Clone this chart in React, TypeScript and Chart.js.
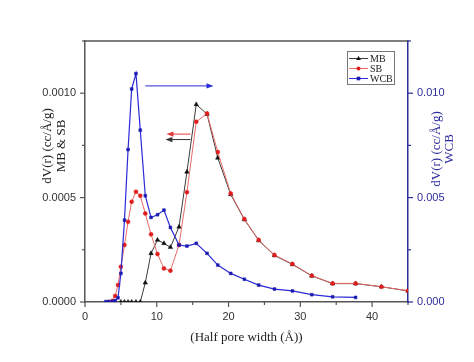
import { useEffect, useRef } from "react";
import { Chart, registerables } from "chart.js";
Chart.register(...registerables);

// ---- Data ----
const mbX = [5.0, 5.5, 6.0, 6.5, 7.1, 7.7, 8.4, 9.2, 10.1, 11.0, 11.9, 13.1, 14.2, 15.5, 17.0, 18.5, 20.3, 22.2, 24.2, 26.4, 28.9, 31.6, 34.5, 37.7, 41.3, 45.0];
const mbY = [0, 0, 0, 0, 0, 0, 0.000092, 0.000233, 0.000297, 0.000281, 0.000262, 0.00036, 0.000623, 0.000946, 0.0009, 0.00069, 0.000515, 0.000395, 0.000295, 0.000223, 0.00018, 0.000125, 0.000088, 0.000088, 0.000073, 0.000053];

const sbX = [3.3, 3.8, 4.2, 4.6, 5.0, 5.5, 6.0, 6.5, 7.1, 7.7, 8.4, 9.2, 10.1, 11.0, 11.9, 13.1, 14.2, 15.5, 17.0, 18.5, 20.3, 22.2, 24.2, 26.4, 28.9, 31.6, 34.5, 37.7, 41.3, 45.0];
const sbY = [0, 0.000005, 0.000029, 0.000081, 0.000169, 0.000273, 0.000384, 0.00048, 0.000528, 0.000509, 0.000424, 0.000324, 0.00023, 0.000161, 0.00015, 0.000273, 0.000526, 0.000863, 0.000903, 0.000718, 0.00052, 0.000397, 0.000297, 0.000225, 0.000182, 0.000126, 0.000089, 0.000089, 0.000073, 0.000054];

const wcbX = [2.9, 3.3, 3.8, 4.2, 4.6, 5.0, 5.5, 6.0, 6.5, 7.1, 7.7, 8.4, 9.2, 10.1, 11.0, 11.9, 13.1, 14.2, 15.5, 17.0, 18.5, 20.3, 22.2, 24.2, 26.4, 28.9, 31.6, 34.5, 37.7];
const wcbY = [0.00002, 0.00002, 0.00003, 0.00006, 0.0002, 0.00137, 0.00392, 0.0073, 0.0102, 0.01094, 0.00823, 0.00509, 0.00405, 0.00418, 0.0044, 0.00357, 0.00273, 0.00268, 0.00281, 0.00233, 0.00177, 0.00137, 0.00109, 0.00081, 0.00062, 0.00053, 0.00035, 0.00025, 0.00022];

const seriesNames = ["MB", "SB", "WCB"];
const xMajorTicks = [0, 10, 20, 30, 40];
const leftMajorTicks = [0, 0.0005, 0.001];
const rightMajorTicks = [0, 0.005, 0.01];

// arrows: [xFrom, xTo, y, axis, color]
const arrows: [number, number, number, string, string][] = [
  [8.4, 17.9, 0.001035, "y", "#2a2ad8"],
  [14.7, 11.35, 0.000804, "y", "#e23a3a"],
  [14.7, 11.2, 0.000778, "y", "#333333"],
];

const SERIF = "'Liberation Serif', 'Times New Roman', serif";
const SANS = "'Liberation Sans', Arial, sans-serif";
const AXIS_GRAY = "#555555";
const BLUE_AXIS = "#2c2c9c";
const COLORS = {
  mbLine: "#3c3c3c",
  mbPoint: "#111111",
  sbLine: "#e86a6a",
  sbPoint: "#e01e1e",
  wcbLine: "#2a2ad8",
  wcbPoint: "#1a1ab0",
};

const near = (v: number, arr: number[]) => arr.some((a) => Math.abs(a - v) < 1e-9);

const decorPlugin = {
  id: "decor",
  afterDraw(chart: any) {
    const ctx = chart.ctx as CanvasRenderingContext2D;
    const ca = chart.chartArea;
    const sx = chart.scales.x;
    const sy = chart.scales.y;
    const sy1 = chart.scales.y1;
    ctx.save();

    // top border
    ctx.strokeStyle = AXIS_GRAY;
    ctx.lineWidth = 1.5;
    ctx.beginPath();
    ctx.moveTo(ca.left, ca.top);
    ctx.lineTo(ca.right, ca.top);
    ctx.stroke();

    // tick marks
    ctx.lineWidth = 1.2;
    ctx.strokeStyle = AXIS_GRAY;
    sx.ticks.forEach((t: any) => {
      const p = sx.getPixelForValue(t.value);
      const len = near(t.value, xMajorTicks) ? 5 : 3;
      ctx.beginPath();
      ctx.moveTo(p, ca.bottom);
      ctx.lineTo(p, ca.bottom + len);
      ctx.stroke();
    });
    sy.ticks.forEach((t: any) => {
      const p = sy.getPixelForValue(t.value);
      const len = near(t.value, leftMajorTicks) ? 5 : 3;
      ctx.beginPath();
      ctx.moveTo(ca.left, p);
      ctx.lineTo(ca.left - len, p);
      ctx.stroke();
    });
    ctx.strokeStyle = BLUE_AXIS;
    sy1.ticks.forEach((t: any) => {
      const p = sy1.getPixelForValue(t.value);
      const len = near(t.value, rightMajorTicks) ? 5 : 3;
      ctx.beginPath();
      ctx.moveTo(ca.right, p);
      ctx.lineTo(ca.right + len, p);
      ctx.stroke();
    });

    // axis titles
    ctx.textAlign = "center";
    ctx.textBaseline = "middle";
    ctx.font = `13px ${SERIF}`;
    ctx.fillStyle = "#222222";
    ctx.fillText("(Half pore width (Å))", (ca.left + ca.right) / 2, 338);

    const rotText = (lines: string[], xs: number[], y: number, color: string) => {
      lines.forEach((l, i) => {
        ctx.save();
        ctx.translate(xs[i], y);
        ctx.rotate(-Math.PI / 2);
        ctx.fillStyle = color;
        ctx.fillText(l, 0, 0);
        ctx.restore();
      });
    };
    rotText(["dV(r) (cc/Å/g)", "MB & SB"], [48, 62], 146, "#222222");
    rotText(["dV(r) (cc/Å/g)", "WCB"], [437, 450], 149, BLUE_AXIS);

    // arrows
    arrows.forEach(([x0, x1, yv, axis, color]) => {
      const scaleY = chart.scales[axis];
      const px0 = sx.getPixelForValue(x0);
      const px1 = sx.getPixelForValue(x1);
      const py = scaleY.getPixelForValue(yv);
      const dir = px1 > px0 ? 1 : -1;
      ctx.strokeStyle = color;
      ctx.fillStyle = color;
      ctx.lineWidth = 1;
      ctx.beginPath();
      ctx.moveTo(px0, py);
      ctx.lineTo(px1 - dir * 5, py);
      ctx.stroke();
      ctx.beginPath();
      ctx.moveTo(px1, py);
      ctx.lineTo(px1 - dir * 7, py - 2.6);
      ctx.lineTo(px1 - dir * 7, py + 2.6);
      ctx.closePath();
      ctx.fill();
    });

    // legend
    const bx = ca.right - 61;
    const by = ca.top + 10;
    const bw = 47;
    const bh = 33;
    ctx.fillStyle = "#ffffff";
    ctx.fillRect(bx, by, bw, bh);
    ctx.strokeStyle = "#777777";
    ctx.lineWidth = 1;
    ctx.strokeRect(bx + 0.5, by + 0.5, bw, bh);
    const items = [
      { name: seriesNames[0], line: COLORS.mbLine, pt: COLORS.mbPoint, style: "triangle" },
      { name: seriesNames[1], line: COLORS.sbLine, pt: COLORS.sbPoint, style: "circle" },
      { name: seriesNames[2], line: COLORS.wcbLine, pt: COLORS.wcbPoint, style: "rect" },
    ];
    ctx.font = `10px ${SERIF}`;
    ctx.textAlign = "left";
    items.forEach((it, i) => {
      const yy = by + 7.5 + i * 10;
      ctx.strokeStyle = it.line;
      ctx.lineWidth = 1;
      ctx.beginPath();
      ctx.moveTo(bx + 2, yy);
      ctx.lineTo(bx + 21, yy);
      ctx.stroke();
      ctx.fillStyle = it.pt;
      const cx = bx + 11.5;
      ctx.beginPath();
      if (it.style === "triangle") {
        ctx.moveTo(cx, yy - 2.6);
        ctx.lineTo(cx + 2.4, yy + 1.6);
        ctx.lineTo(cx - 2.4, yy + 1.6);
        ctx.closePath();
      } else if (it.style === "circle") {
        ctx.arc(cx, yy, 2, 0, Math.PI * 2);
      } else {
        ctx.rect(cx - 1.8, yy - 1.8, 3.6, 3.6);
      }
      ctx.fill();
      ctx.fillStyle = "#222222";
      ctx.fillText(it.name, bx + 23, yy + 0.5);
    });

    ctx.restore();
  },
};

export default function App() {
  const ref = useRef<HTMLCanvasElement>(null);
  useEffect(() => {
    const toPts = (xs: number[], ys: number[]) => xs.map((x, i) => ({ x, y: ys[i] }));
    const chart = new Chart(ref.current as HTMLCanvasElement, {
      type: "line",
      data: {
        datasets: [
          {
            label: seriesNames[0],
            data: toPts(mbX, mbY),
            yAxisID: "y",
            borderColor: COLORS.mbLine,
            backgroundColor: COLORS.mbPoint,
            pointBackgroundColor: COLORS.mbPoint,
            pointBorderColor: COLORS.mbPoint,
            pointStyle: "triangle",
            pointRadius: 2.6,
            pointBorderWidth: 0.5,
            borderWidth: 1,
            tension: 0,
            order: 3,
          },
          {
            label: seriesNames[1],
            data: toPts(sbX, sbY),
            yAxisID: "y",
            borderColor: COLORS.sbLine,
            backgroundColor: COLORS.sbPoint,
            pointBackgroundColor: COLORS.sbPoint,
            pointBorderColor: COLORS.sbPoint,
            pointStyle: "circle",
            pointRadius: 2,
            pointBorderWidth: 0.5,
            borderWidth: 1,
            tension: 0,
            order: 2,
          },
          {
            label: seriesNames[2],
            data: toPts(wcbX, wcbY),
            yAxisID: "y1",
            borderColor: COLORS.wcbLine,
            backgroundColor: COLORS.wcbPoint,
            pointBackgroundColor: COLORS.wcbPoint,
            pointBorderColor: COLORS.wcbPoint,
            pointStyle: "rect",
            pointRadius: 2,
            pointBorderWidth: 0.5,
            borderWidth: 1.2,
            tension: 0,
            order: 1,
          },
        ],
      },
      options: {
        animation: false,
        responsive: false,
        maintainAspectRatio: false,
        layout: { padding: { top: 41, left: 0, right: 0, bottom: 0 } },
        plugins: { legend: { display: false }, tooltip: { enabled: false } },
        scales: {
          x: {
            type: "linear",
            min: 0,
            max: 45,
            ticks: {
              stepSize: 5,
              autoSkip: false,
              maxRotation: 0,
              padding: 3,
              color: "#333333",
              font: { family: SANS, size: 11 },
              callback: (v: any) => (near(Number(v), xMajorTicks) ? String(v) : ""),
            },
            grid: { drawOnChartArea: false, drawTicks: true, tickLength: 5, tickColor: "rgba(0,0,0,0)" },
            border: { color: AXIS_GRAY, width: 1.5 },
            afterFit: (s: any) => {
              s.height = 60;
            },
          },
          y: {
            type: "linear",
            position: "left",
            min: 0,
            max: 0.00125,
            ticks: {
              stepSize: 0.00025,
              autoSkip: false,
              padding: 4,
              color: "#333333",
              font: { family: SANS, size: 11 },
              callback: (v: any) => (near(Number(v), leftMajorTicks) ? Number(v).toFixed(4) : ""),
            },
            grid: { drawOnChartArea: false, drawTicks: true, tickLength: 5, tickColor: "rgba(0,0,0,0)" },
            border: { color: AXIS_GRAY, width: 1.5 },
            afterFit: (s: any) => {
              s.width = 85;
            },
          },
          y1: {
            type: "linear",
            position: "right",
            min: 0,
            max: 0.0125,
            ticks: {
              stepSize: 0.0025,
              autoSkip: false,
              padding: 4,
              color: BLUE_AXIS,
              font: { family: SANS, size: 11 },
              callback: (v: any) => (near(Number(v), rightMajorTicks) ? Number(v).toFixed(3) : ""),
            },
            grid: { drawOnChartArea: false, drawTicks: true, tickLength: 5, tickColor: "rgba(0,0,0,0)" },
            border: { color: BLUE_AXIS, width: 1.5 },
            afterFit: (s: any) => {
              s.width = 66;
            },
          },
        },
      },
      plugins: [decorPlugin],
    });
    return () => chart.destroy();
  }, []);
  return (
    <div style={{ position: "absolute", left: 0, top: 0, width: 474, height: 362, background: "#ffffff" }}>
      <canvas ref={ref} width={474} height={362} style={{ width: 474, height: 362, display: "block" }} />
    </div>
  );
}
